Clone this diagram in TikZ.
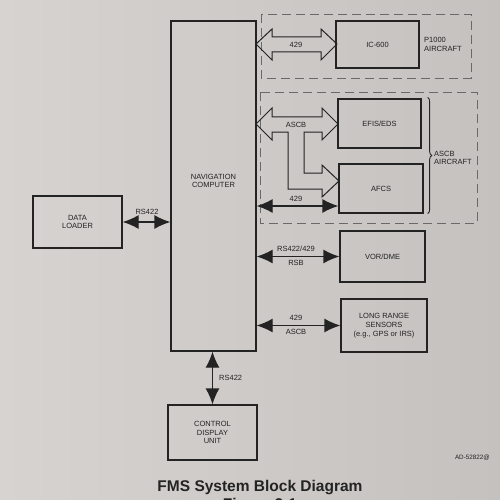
\documentclass[tikz,border=0pt]{standalone}
\usepackage{fontspec}
\setmainfont{Liberation Sans}
\usetikzlibrary{arrows.meta,calc,decorations.pathreplacing}
\definecolor{bgl}{RGB}{214,211,209}
\definecolor{bgr}{RGB}{196,193,191}
\definecolor{ink}{RGB}{35,35,35}
\definecolor{dashc}{RGB}{105,105,105}
\begin{document}
\begin{tikzpicture}[x=1pt,y=-1pt,
  box/.style={draw=ink,line width=1.3pt,align=center,font=\fontsize{7.5}{8.8}\selectfont,text=ink,inner sep=0pt},
  grp/.style={draw=dashc,line width=0.8pt,dash pattern=on 9pt off 5pt},
  lbl/.style={font=\fontsize{7.5}{8.8}\selectfont,text=ink,inner sep=0pt,align=center},
  dbl/.style={draw=ink,line width=1.3pt,{Latex[length=16pt,width=14pt]}-{Latex[length=16pt,width=14pt]}},
  hollow/.style={draw=ink,line width=1pt,line join=miter},
  ttl/.style={font=\bfseries\fontsize{15.5}{18}\selectfont,text=ink,inner sep=0pt}
]
\shade[left color=bgl,right color=bgr] (0,0) rectangle (500,500);
\useasboundingbox (0,0) rectangle (500,500);

% boxes
\node[box,minimum width=85,minimum height=330,
  label={[lbl,yshift=5pt]center:NAVIGATION\\COMPUTER}] (nav) at (213.5,186) {};
\node[box,minimum width=89,minimum height=52] (dl) at (77.5,222) {DATA\\LOADER};
\node[box,minimum width=83,minimum height=47] (ic) at (377.5,44.5) {IC-600};
\node[box,minimum width=83,minimum height=49] (efis) at (379.5,123.5) {EFIS/EDS};
\node[box,minimum width=84,minimum height=49] (afcs) at (381,188.5) {AFCS};
\node[box,minimum width=85,minimum height=51] (vor) at (382.5,256.5) {VOR/DME};
\node[box,minimum width=86,minimum height=53] (lrs) at (384,325.5) {LONG RANGE\\SENSORS\\(e.g., GPS or IRS)};
\node[box,minimum width=89,minimum height=55] (cdu) at (212.5,432.5) {CONTROL\\DISPLAY\\UNIT};

% aircraft groups
\draw[grp] (261,14) rectangle (471,78);
\draw[grp] (260,92) rectangle (477,223);
\node[lbl,align=left,anchor=west] (p1000) at (424,44.5) {P1000\\AIRCRAFT};
\draw[ink,line width=0.9pt,decorate,decoration={brace,amplitude=4pt}] (efis.north east)+(6,-1) coordinate (bt) -- (afcs.south east -| bt) ;
\node[lbl,align=left,anchor=west] (ascbac) at (434,158) {ASCB\\AIRCRAFT};

% hollow bus arrows
\draw[hollow] (256,44) -- (272,29) -- (272,37) -- (321,37) -- (321,29) -- (337,44)
  -- (321,60) -- (321,52) -- (272,52) -- (272,60) -- cycle;
\node[lbl] (l429a) at (296,44.5) {429};
\draw[hollow] (256,124) -- (272,108) -- (272,117) -- (322,117) -- (322,108) -- (338,124)
  -- (322,140) -- (322,132) -- (304,132) -- (304,173) -- (322,173) -- (322,165)
  -- (339,181) -- (322,197) -- (322,189) -- (288,189) -- (288,132) -- (272,132)
  -- (272,140) -- cycle;
\node[lbl] (lascb) at (296,124.5) {ASCB};

% filled connectors
\coordinate (a429) at ($(afcs.west)+(0,17.5)$);
\draw[dbl] (nav.east |- a429) -- (a429);
\node[lbl] (l429b) at (296,199) {429};

\draw[dbl] (dl.east) -- (nav.west |- dl.east);
\node[lbl] (lrs1) at (147,212) {RS422};

\draw[dbl] (nav.east |- vor.west) -- (vor.west);
\node[lbl] (lrs2) at (296,249) {RS422/429};
\node[lbl] (lrsb) at (296,263) {RSB};

\draw[dbl] (nav.east |- lrs.west) -- (lrs.west);
\node[lbl] (l429c) at (296,318) {429};
\node[lbl] (lascb2) at (296,331.5) {ASCB};

\draw[dbl] (cdu.north |- nav.south) -- (cdu.north);
\node[lbl,anchor=west] (lrs3) at (219,378) {RS422};

% captions
\node[font=\fontsize{6.3}{7}\selectfont,text=ink,inner sep=0pt,anchor=base east] (ad) at (490,459) {AD-52822@};
\node[ttl,anchor=base] (title) at (260,491) {FMS System Block Diagram};
\node[ttl,anchor=base] (fig) at (260,509) {Figure 2-1};
\end{tikzpicture}
\end{document}
